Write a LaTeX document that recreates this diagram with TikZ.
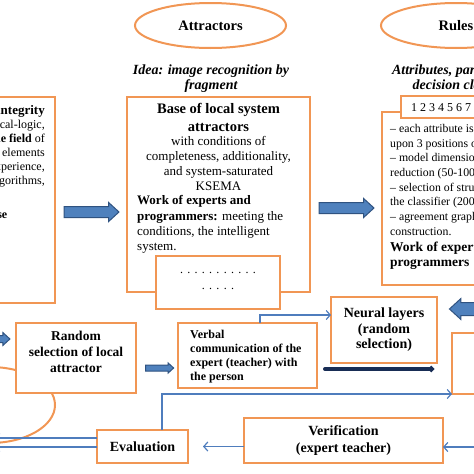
\documentclass[tikz,border=0pt]{standalone}
\usepackage{fontspec}
\setmainfont{Liberation Serif}
\usetikzlibrary{shapes.geometric,shapes.arrows,arrows.meta,positioning}

\definecolor{boxorange}{RGB}{241,150,84}
\definecolor{arrowfill}{RGB}{79,129,189}
\definecolor{arrowedge}{RGB}{47,82,128}
\definecolor{linkblue}{RGB}{79,125,189}
\definecolor{darknavy}{RGB}{24,45,85}

\newcommand{\fs}[2]{\fontsize{#1}{#2}\selectfont}
\newcommand{\dd}{.\hspace{4.3pt}}

\tikzset{
  box/.style={draw=boxorange, line width=2pt, fill=white, inner sep=0pt, outer sep=0pt},
  oval/.style={ellipse, draw=boxorange, line width=2pt, fill=white, inner sep=0pt, outer sep=0pt},
  words/.style={inner sep=0pt},
  bigarrow/.style={single arrow, draw=arrowedge, fill=arrowfill, line width=1pt,
    inner xsep=0pt, inner ysep=5pt, single arrow head extend=4pt,
    single arrow tip angle=85, minimum height=55pt},
  smallarrow/.style={bigarrow, inner ysep=2.5pt, single arrow head extend=2pt, minimum height=28pt},
  link/.style={draw=linkblue, line width=1.2pt, -{Straight Barb[length=4pt,width=9pt]}},
}

\begin{document}
\begin{tikzpicture}[x=1pt,y=-1pt]
\useasboundingbox (0,0) rectangle (474,474);
\clip (0,0) rectangle (474,474);

% headings
\node[oval, minimum width=151pt, minimum height=45pt, font=\fs{14.5}{16}\bfseries] (attrOval) at (210.5,25.5) {Attractors};
\node[oval, minimum width=150pt, minimum height=45pt, font=\fs{14.5}{16}\bfseries] (rulesOval) at (456,25.5) {Rules};
\node[words, align=center, anchor=north, font=\fs{14}{15}\bfseries\itshape] (idea) at (211,64.5) {Idea: image recognition by\\ fragment};
\node[words, align=center, anchor=north, font=\fs{14}{15}\bfseries\itshape] (attrib) at (458,64.5) {Attributes, parameters,\\ decision classes};

% left box
\node[box, minimum width=205pt, minimum height=206pt] (integ) at (-47.5,200) {};
\node[words, align=right, anchor=north east, font=\fs{12}{14}] (integTxt) at (45,105.5) {\fs{13}{14}\textbf{System integrity}\\ mathematical-logic,\\ in \textbf{the field} of\\ knowledge elements\\ expert experience,\\ and algorithms,};
\node[words, anchor=base east, font=\fs{12}{14}\bfseries] (integEnd) at (7.5,218) {the base};

\node[bigarrow] (arrowA) at (88.5,212) {};

% attractors
\node[box, minimum width=183pt, minimum height=195pt] (attrBox) at (218.5,194.5) {};
\node[words, align=center, anchor=north, font=\fs{14.5}{17.7}\bfseries] (attrHead) at (218.5,103.2) {Base of local system\\ attractors};
\node[words, align=center, anchor=north, font=\fs{13}{14.8}] (attrCond) at (218.5,136.6) {with conditions of\\ completeness, additionality,\\ and system-saturated\\ KSEMA};
\node[words, align=left, anchor=north west, font=\fs{13}{15.3}] (attrWork) at (137,195.6) {\textbf{Work of experts and}\\ \textbf{programmers:} meeting the\\ conditions, the intelligent\\ system.};

\node[box, minimum width=124pt, minimum height=53pt] (dotsBox) at (218,282.5) {};
\node[words, anchor=base, font=\fs{12}{14}] (dotsA) at (218,273) {\dd\dd\dd\dd\dd\dd\dd\dd\dd\dd.};
\node[words, anchor=base, font=\fs{12}{14}] (dotsB) at (218,289) {\dd\dd\dd\dd.};

\node[bigarrow] (arrowB) at (343.5,208) {};

% rules
\node[box, anchor=north west, minimum width=160pt, minimum height=173pt] (rulesBox) at (382,112) {};
\node[box, anchor=north west, minimum width=120pt, minimum height=22pt] (numBox) at (401,96) {};
\node[words, anchor=west, font=\fs{12}{14}] (numTxt) at (411,107.5) {1 2 3 4 5 6 7 8 9};
\node[words, align=left, anchor=north west, font=\fs{11.8}{14.7}] (rulesTxt) at (390,124) {-- each attribute is coded\\ upon 3 positions of\\ -- model dimension\\ reduction (50-100)\\ -- selection of structure\\ the classifier (200)\\ -- agreement graph\\ construction.};
\node[words, align=left, anchor=north west, font=\fs{13.5}{15}\bfseries] (rulesWork) at (390,241.7) {Work of experts and\\ programmers};

% lower row
\node[box, minimum width=106pt, minimum height=66pt, align=center, font=\fs{14}{15.5}\bfseries] (neural) at (384,330) {Neural layers\\ (random\\ selection)};
\node[bigarrow, shape border rotate=180, inner ysep=6pt, minimum height=40pt] (arrowC) at (473,309) {};
\node[box, anchor=north west, minimum width=100pt, minimum height=61pt] (rbox) at (452,333) {};

\node[oval, fill=none, minimum width=130pt, minimum height=76pt] (cloud) at (-10,405) {};
\node[box, minimum width=120pt, minimum height=70pt] (random) at (76,358) {};
\node[words, align=center, font=\fs{13.5}{16}\bfseries] (randomTxt) at (76,351.5) {Random\\ selection of local\\ attractor};
\node[smallarrow] (arrowD) at (158,368) {};
\node[smallarrow, inner ysep=3pt, single arrow head extend=3pt] (arrowE) at (-6,339) {};

\node[box, minimum width=139pt, minimum height=65pt] (verbal) at (247.5,355.5) {};
\node[words, align=left, anchor=north west, font=\fs{12}{14}\bfseries] (verbalTxt) at (190,329.5) {Verbal\\ communication of the\\ expert (teacher) with\\ the person};

\coordinate (navyA) at (325,369);
\coordinate (navyB) at (434,369);
\draw[darknavy, line width=4pt, line cap=round, -{Circle[length=5.5pt]}] (navyA) -- (navyB);

\node[box, minimum width=91pt, minimum height=33pt, font=\fs{14}{16}\bfseries] (eval) at (142.5,446.5) {Evaluation};
\node[box, minimum width=199pt, minimum height=45pt, align=center, font=\fs{14}{17}\bfseries] (verif) at (343.5,440.5) {Verification\\ (expert teacher)};

% thin links
\coordinate (evalIn) at ([xshift=15pt]eval.east);
\coordinate (verifIn) at (480,447);
\coordinate (leftA) at (-5,438);
\coordinate (leftB) at (-5,447);
\draw[link] ([xshift=12.5pt]verbal.north) |- ([yshift=15pt]neural.west);
\draw[link] ([xshift=19.5pt]eval.north) |- (rbox.south west);
\draw[link] (verif.west |- evalIn) -- (evalIn);
\draw[link] (verifIn) -- (verif.east |- verifIn);
\draw[link] (eval.west |- leftA) -- (leftA);
\draw[link] (eval.west |- leftB) -- (leftB);
\end{tikzpicture}
\end{document}
